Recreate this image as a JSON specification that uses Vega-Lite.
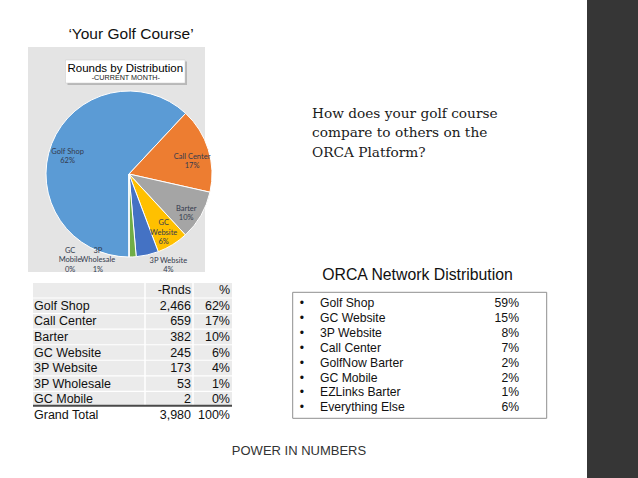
{
  "$schema": "https://vega.github.io/schema/vega-lite/v6.json",
  "width": 587,
  "height": 478,
  "autosize": {"type": "none"},
  "padding": {"left": 0, "top": 0, "right": 51, "bottom": 0},
  "background": "#363636",
  "config": {"view": {"fill": "white", "stroke": null}, "text": {"font": "Liberation Sans", "color": "#111111"}},
  "datasets": {
    "rounds": [
      {"rank": 1, "name": "Golf Shop", "rnds": 2466, "pct": 0.62, "pieLabel": "Golf Shop\n62%"},
      {"rank": 2, "name": "Call Center", "rnds": 659, "pct": 0.17, "pieLabel": "Call Center\n17%"},
      {"rank": 3, "name": "Barter", "rnds": 382, "pct": 0.10, "pieLabel": "Barter\n10%"},
      {"rank": 4, "name": "GC Website", "rnds": 245, "pct": 0.06, "pieLabel": "GC\nWebsite\n6%"},
      {"rank": 5, "name": "3P Website", "rnds": 173, "pct": 0.04, "pieLabel": "3P Website\n4%"},
      {"rank": 6, "name": "3P Wholesale", "rnds": 53, "pct": 0.01, "pieLabel": "3P\nWholesale\n1%"},
      {"rank": 7, "name": "GC Mobile", "rnds": 2, "pct": 0.0, "pieLabel": "GC\nMobile\n0%"}
    ],
    "total": [{"name": "Grand Total", "rnds": 3980, "pct": 1}],
    "network": [
      {"name": "Golf Shop", "pct": 0.59},
      {"name": "GC Website", "pct": 0.15},
      {"name": "3P Website", "pct": 0.08},
      {"name": "Call Center", "pct": 0.07},
      {"name": "GolfNow Barter", "pct": 0.02},
      {"name": "GC Mobile", "pct": 0.02},
      {"name": "EZLinks Barter", "pct": 0.01},
      {"name": "Everything Else", "pct": 0.06}
    ]
  },
  "resolve": {"scale": {"y": "independent", "x": "independent", "theta": "independent", "color": "independent"}},
  "layer": [
    {
      "data": {"values": [{}]},
      "mark": {"type": "rect", "fill": "#e4e4e4"},
      "encoding": {"x": {"value": 28}, "x2": {"value": 205}, "y": {"value": 47}, "y2": {"value": 272}}
    },
    {
      "data": {"name": "rounds"},
      "encoding": {
        "theta": {"field": "rnds", "type": "quantitative", "stack": true, "scale": {"range": [3.14159265, 9.42477796]}},
        "order": {"field": "rank", "type": "quantitative", "sort": "ascending"},
        "x": {"value": 129},
        "y": {"value": 174}
      },
      "layer": [
        {
          "mark": {"type": "arc", "radius": 83, "stroke": "white", "strokeWidth": 1},
          "encoding": {
            "color": {
              "field": "name", "type": "nominal", "legend": null,
              "scale": {
                "domain": ["Golf Shop", "Call Center", "Barter", "GC Website", "3P Website", "3P Wholesale", "GC Mobile"],
                "range": ["#5B9BD5", "#ED7D31", "#A5A5A5", "#FFC000", "#4472C4", "#70AD47", "#255E91"]
              }
            }
          }
        },
        {
          "mark": {"type": "text", "radius": 66, "dy": 2, "lineBreak": "\n", "font": "Lato", "fontSize": 7.5, "lineHeight": 9, "color": "#333a4d", "baseline": "middle"},
          "encoding": {"text": {"condition": {"test": "datum.rank <= 3", "field": "pieLabel", "type": "nominal"}, "value": ""}}
        },
        {
          "mark": {"type": "text", "radius": 66, "dy": -7, "lineBreak": "\n", "font": "Lato", "fontSize": 7.5, "lineHeight": 9.5, "color": "#333a4d", "baseline": "middle"},
          "encoding": {"text": {"condition": {"test": "datum.rank == 4", "field": "pieLabel", "type": "nominal"}, "value": ""}}
        },
        {
          "mark": {"type": "text", "radius": 92, "dx": 19, "dy": -3, "lineBreak": "\n", "font": "Lato", "fontSize": 7.5, "lineHeight": 9.3, "color": "#333a4d", "baseline": "middle"},
          "encoding": {"text": {"condition": {"test": "datum.rank == 5", "field": "pieLabel", "type": "nominal"}, "value": ""}}
        },
        {
          "mark": {"type": "text", "radius": 86, "dx": -35, "dy": -9, "lineBreak": "\n", "font": "Lato", "fontSize": 7.5, "lineHeight": 9.5, "color": "#333a4d", "baseline": "middle"},
          "encoding": {"text": {"condition": {"test": "datum.rank == 6", "field": "pieLabel", "type": "nominal"}, "value": ""}}
        },
        {
          "mark": {"type": "text", "radius": 86, "dx": -59, "dy": -9, "lineBreak": "\n", "font": "Lato", "fontSize": 7.5, "lineHeight": 9.5, "color": "#333a4d", "baseline": "middle"},
          "encoding": {"text": {"condition": {"test": "datum.rank == 7", "field": "pieLabel", "type": "nominal"}, "value": ""}}
        }
      ]
    },
    {
      "data": {"values": [{}]},
      "layer": [
        {
          "mark": {"type": "rect", "fill": "#b8b8b8"},
          "encoding": {"x": {"value": 67.5}, "x2": {"value": 187}, "y": {"value": 61.5}, "y2": {"value": 85}}
        },
        {
          "mark": {"type": "rect", "fill": "white", "stroke": "#c8c8c8", "strokeWidth": 0.5},
          "encoding": {"x": {"value": 65.5}, "x2": {"value": 185}, "y": {"value": 60}, "y2": {"value": 83}}
        },
        {
          "mark": {"type": "text", "fontSize": 11.5, "align": "center", "baseline": "middle", "color": "#000000"},
          "encoding": {"x": {"value": 125.3}, "y": {"value": 68.5}, "text": {"value": "Rounds by Distribution"}}
        },
        {
          "mark": {"type": "text", "fontSize": 7.2, "align": "center", "baseline": "middle", "color": "#222222"},
          "encoding": {"x": {"value": 125.8}, "y": {"value": 78}, "text": {"value": "-CURRENT MONTH-"}}
        }
      ]
    },
    {
      "encoding": {
        "y": {
          "field": "name", "type": "nominal", "axis": null,
          "scale": {"type": "band", "domain": ["header", "Golf Shop", "Call Center", "Barter", "GC Website", "3P Website", "3P Wholesale", "GC Mobile", "Grand Total"], "range": [283, 422], "paddingInner": 0.07, "paddingOuter": 0}
        }
      },
      "layer": [
        {
          "data": {"name": "rounds"},
          "mark": {"type": "rect", "fill": "#ebebeb"},
          "encoding": {"x": {"value": 33}, "x2": {"value": 232}}
        },
        {
          "data": {"values": [{"name": "header"}]},
          "mark": {"type": "rect", "fill": "#ebebeb"},
          "encoding": {"x": {"value": 33}, "x2": {"value": 232}}
        },
        {
          "data": {"values": [{}]},
          "mark": {"type": "rule", "color": "white", "strokeWidth": 1.5},
          "encoding": {"x": {"value": 145}, "y": {"value": 283}, "y2": {"value": 406}}
        },
        {
          "data": {"values": [{}]},
          "mark": {"type": "rule", "color": "white", "strokeWidth": 1.5},
          "encoding": {"x": {"value": 193}, "y": {"value": 283}, "y2": {"value": 406}}
        },
        {
          "data": {"values": [{"name": "header"}]},
          "mark": {"type": "text", "fontSize": 12.5, "align": "right", "baseline": "middle"},
          "encoding": {"x": {"value": 191}, "text": {"value": "-Rnds"}}
        },
        {
          "data": {"values": [{"name": "header"}]},
          "mark": {"type": "text", "fontSize": 12.5, "align": "right", "baseline": "middle"},
          "encoding": {"x": {"value": 230}, "text": {"value": "%"}}
        },
        {
          "data": {"name": "rounds"},
          "mark": {"type": "text", "fontSize": 12.5, "align": "left", "baseline": "middle"},
          "encoding": {"x": {"value": 34}, "text": {"field": "name", "type": "nominal"}}
        },
        {
          "data": {"name": "rounds"},
          "mark": {"type": "text", "fontSize": 12.5, "align": "right", "baseline": "middle"},
          "encoding": {"x": {"value": 191}, "text": {"field": "rnds", "type": "quantitative", "format": ","}}
        },
        {
          "data": {"name": "rounds"},
          "mark": {"type": "text", "fontSize": 12.5, "align": "right", "baseline": "middle"},
          "encoding": {"x": {"value": 230}, "text": {"field": "pct", "type": "quantitative", "format": ".0%"}}
        },
        {
          "data": {"name": "total"},
          "mark": {"type": "text", "fontSize": 12.5, "align": "left", "baseline": "middle"},
          "encoding": {"x": {"value": 34}, "text": {"field": "name", "type": "nominal"}}
        },
        {
          "data": {"name": "total"},
          "mark": {"type": "text", "fontSize": 12.5, "align": "right", "baseline": "middle"},
          "encoding": {"x": {"value": 191}, "text": {"field": "rnds", "type": "quantitative", "format": ","}}
        },
        {
          "data": {"name": "total"},
          "mark": {"type": "text", "fontSize": 12.5, "align": "right", "baseline": "middle"},
          "encoding": {"x": {"value": 230}, "text": {"field": "pct", "type": "quantitative", "format": ".0%"}}
        },
        {
          "data": {"values": [{}]},
          "mark": {"type": "rule", "color": "#4a4a4a", "strokeWidth": 2},
          "encoding": {"x": {"value": 33}, "x2": {"value": 232}, "y": {"value": 405.8}}
        }
      ]
    },
    {
      "encoding": {
        "y": {
          "field": "name", "type": "nominal", "axis": null,
          "scale": {"type": "point", "domain": ["Golf Shop", "GC Website", "3P Website", "Call Center", "GolfNow Barter", "GC Mobile", "EZLinks Barter", "Everything Else"], "range": [303.3, 407.3], "padding": 0}
        }
      },
      "layer": [
        {
          "data": {"values": [{}]},
          "mark": {"type": "rect", "fill": null, "stroke": "#8f8f8f", "strokeWidth": 1},
          "encoding": {"x": {"value": 292.7}, "x2": {"value": 546.7}, "y": {"value": 292.3}, "y2": {"value": 418.3}}
        },
        {
          "data": {"name": "network"},
          "mark": {"type": "text", "fontSize": 12.2, "align": "center", "baseline": "middle"},
          "encoding": {"x": {"value": 302}, "text": {"value": "•"}}
        },
        {
          "data": {"name": "network"},
          "mark": {"type": "text", "fontSize": 12.2, "align": "left", "baseline": "middle"},
          "encoding": {"x": {"value": 320}, "text": {"field": "name", "type": "nominal"}}
        },
        {
          "data": {"name": "network"},
          "mark": {"type": "text", "fontSize": 12.2, "align": "right", "baseline": "middle"},
          "encoding": {"x": {"value": 519}, "text": {"field": "pct", "type": "quantitative", "format": ".0%"}}
        }
      ]
    },
    {
      "data": {"values": [{}]},
      "layer": [
        {
          "mark": {"type": "text", "fontSize": 15.5, "align": "center", "baseline": "middle"},
          "encoding": {"x": {"value": 131}, "y": {"value": 33.5}, "text": {"value": "‘Your Golf Course’"}}
        },
        {
          "mark": {"type": "text", "font": "DejaVu Serif", "fontSize": 13.7, "align": "left", "baseline": "alphabetic", "lineBreak": "\n", "lineHeight": 19.3, "color": "#1a1a1a"},
          "encoding": {"x": {"value": 312}, "y": {"value": 118}, "text": {"value": "How does your golf course\ncompare to others on the\nORCA Platform?"}}
        },
        {
          "mark": {"type": "text", "fontSize": 15.8, "align": "center", "baseline": "middle"},
          "encoding": {"x": {"value": 417.5}, "y": {"value": 275}, "text": {"value": "ORCA Network Distribution"}}
        },
        {
          "mark": {"type": "text", "fontSize": 13, "align": "center", "baseline": "middle", "color": "#333333"},
          "encoding": {"x": {"value": 299}, "y": {"value": 451}, "text": {"value": "POWER IN NUMBERS"}}
        }
      ]
    }
  ]
}
